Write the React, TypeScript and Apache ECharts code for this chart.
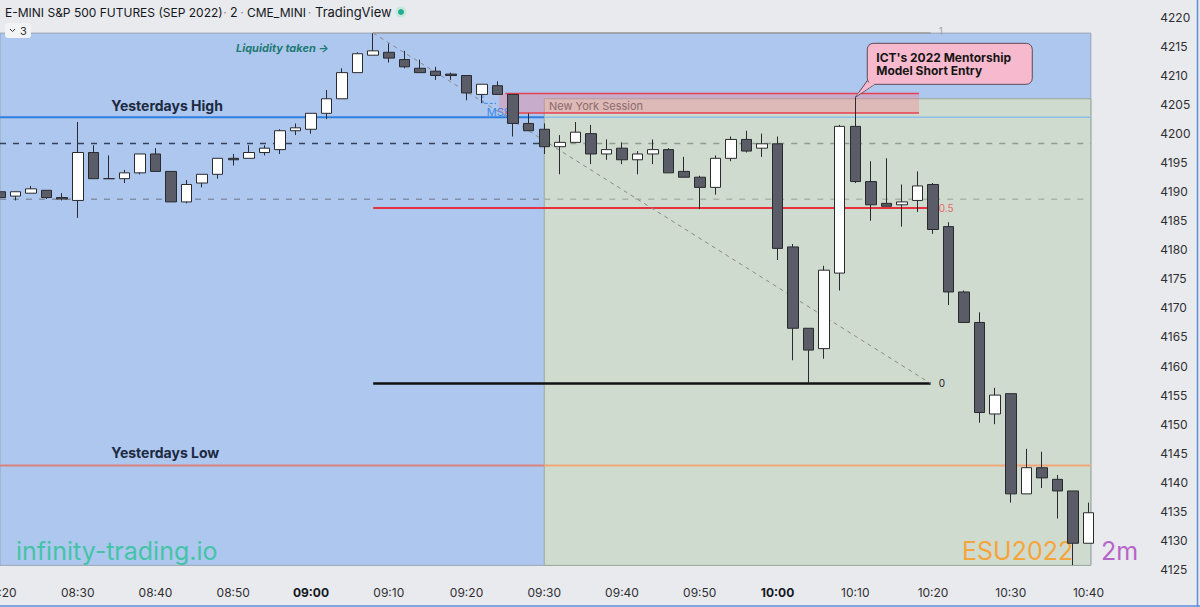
import React, { useEffect, useRef } from "react";
import * as echarts from "echarts";

// ---- Candles (2-minute bars, ESU2022) ----
const times = [
  "08:20","08:22","08:24","08:26","08:28","08:30","08:32","08:34","08:36","08:38",
  "08:40","08:42","08:44","08:46","08:48","08:50","08:52","08:54","08:56","08:58",
  "09:00","09:02","09:04","09:06","09:08","09:10","09:12","09:14","09:16","09:18",
  "09:20","09:22","09:24","09:26","09:28","09:30","09:32","09:34","09:36","09:38",
  "09:40","09:42","09:44","09:46","09:48","09:50","09:52","09:54","09:56","09:58",
  "10:00","10:02","10:04","10:06","10:08","10:10","10:12","10:14","10:16","10:18",
  "10:20","10:22","10:24","10:26","10:28","10:30","10:32","10:34","10:36","10:38",
  "10:40",
];
const opens = [
  4190.0, 4189.25, 4189.75, 4190.25, 4189.0, 4188.5, 4196.75, 4192.25, 4192.25, 4193.25,
  4196.5, 4193.5, 4188.25, 4191.5, 4193.0, 4195.75, 4195.75, 4196.75, 4197.25, 4200.5,
  4200.75, 4203.5, 4206.0, 4210.5, 4213.5, 4214.0, 4212.75, 4211.25, 4210.75, 4210.25,
  4210.0, 4206.75, 4208.25, 4206.75, 4201.75, 4200.75, 4197.75, 4198.5, 4200.0, 4196.5,
  4197.5, 4195.5, 4196.5, 4197.25, 4193.5, 4192.5, 4190.75, 4195.75, 4199.0, 4197.5,
  4198.25, 4180.5, 4166.5, 4163.0, 4176.0, 4201.25, 4191.75, 4188.0, 4187.75, 4188.5,
  4191.25, 4184.0, 4172.75, 4167.5, 4151.75, 4155.25, 4138.0, 4142.5, 4140.5, 4138.5,
  4129.5,
];
const closes = [
  4189.0, 4190.0, 4190.5, 4189.0, 4188.75, 4196.75, 4192.25, 4192.25, 4193.25, 4196.5,
  4193.5, 4188.25, 4191.25, 4193.0, 4195.75, 4195.5, 4196.75, 4197.5, 4200.5, 4201.0,
  4203.5, 4206.0, 4210.5, 4213.75, 4214.25, 4213.0, 4211.5, 4210.5, 4210.0, 4210.0,
  4207.0, 4208.5, 4206.75, 4201.75, 4200.5, 4197.75, 4198.5, 4200.25, 4196.5, 4197.25,
  4195.5, 4196.5, 4197.25, 4193.25, 4192.5, 4190.75, 4195.75, 4199.0, 4197.0, 4198.25,
  4180.25, 4166.5, 4162.75, 4176.5, 4201.25, 4191.75, 4187.75, 4187.5, 4188.25, 4191.0,
  4183.5, 4172.75, 4167.5, 4152.0, 4155.0, 4138.0, 4142.5, 4140.75, 4138.5, 4129.5,
  4134.75,
];
const lows = [
  4188.75, 4188.5, 4189.75, 4188.75, 4188.5, 4185.5, 4192.25, 4192.25, 4191.5, 4193.0,
  4193.5, 4188.25, 4188.0, 4190.75, 4192.25, 4194.5, 4195.75, 4196.25, 4196.5, 4199.75,
  4200.0, 4202.5, 4206.0, 4210.5, 4213.5, 4212.25, 4211.25, 4210.5, 4209.25, 4209.25,
  4205.75, 4205.25, 4206.75, 4199.5, 4200.5, 4196.5, 4193.0, 4198.5, 4194.75, 4195.5,
  4194.75, 4193.0, 4194.75, 4193.25, 4192.5, 4187.0, 4189.5, 4195.25, 4196.75, 4196.0,
  4178.25, 4161.0, 4157.0, 4161.25, 4173.0, 4191.5, 4185.0, 4187.5, 4184.0, 4186.5,
  4182.75, 4170.5, 4167.5, 4150.25, 4150.0, 4136.5, 4138.0, 4139.0, 4133.75, 4125.75,
  4129.5,
];
const highs = [
  4190.25, 4190.0, 4191.0, 4190.25, 4189.75, 4202.0, 4198.0, 4196.25, 4193.75, 4196.5,
  4197.5, 4193.5, 4192.0, 4193.0, 4195.75, 4196.5, 4198.0, 4198.0, 4200.75, 4201.75,
  4203.5, 4207.5, 4211.25, 4214.0, 4217.25, 4215.5, 4214.25, 4212.75, 4211.5, 4210.5,
  4210.0, 4208.5, 4209.0, 4206.75, 4203.5, 4201.75, 4199.75, 4202.0, 4201.5, 4199.0,
  4198.5, 4197.0, 4199.0, 4197.5, 4196.0, 4192.75, 4196.25, 4199.5, 4200.5, 4200.0,
  4199.5, 4181.0, 4166.5, 4177.25, 4201.5, 4206.25, 4195.25, 4195.75, 4191.25, 4193.5,
  4191.5, 4184.75, 4173.0, 4169.25, 4156.25, 4155.25, 4145.75, 4145.25, 4141.25, 4138.5,
  4136.5,
];

// ---- Drawn zones (minutes since midnight / price) ----
const zoneStart = [500, 570, 564.2];
const zoneEnd = [640.3, 640.3, 618.2];
const zoneLow = [4125.7, 4125.7, 4203.55];
const zoneHigh = [4217.3, 4206.0, 4206.9];

// ---- Horizontal levels (minutes / price) ----
const levelPrice = [4202.8, 4202.8, 4198.3, 4198.3, 4188.7, 4188.7, 4142.9, 4142.9, 4217.3, 4187.2, 4157.0, 4206.9, 4203.55];
const levelStart = [500, 570, 500, 570, 500, 570, 500, 570, 548, 548, 548, 565, 565];
const levelEnd = [570, 640.3, 570, 640.3, 570, 640.3, 570, 640.3, 619.7, 619.7, 619.7, 618.2, 618.2];

// ---- Fib diagonal and MSS marker ----
const fibDiagonal = [[548, 4217.3], [619.7, 4157.0]];
const mssMarker = [[562.1, 4206.6], [562.1, 4205.2], [563.8, 4205.2]];
const fibLabels = ["1", "0.5", "0"];
const fibLabelPrice = [4217.3, 4187.2, 4157.0];

// ---- Text annotations ----
const noteTexts = ["Yesterdays High", "Yesterdays Low", "Liquidity taken →", "New York Session", "MSS"];
const noteTime = [514.3, 514.3, 530.35, 570.6, 562.6];
const notePrice = [4204.85, 4145.1, 4214.7, 4204.7, 4203.65];
const calloutLines = ["ICT's 2022 Mentorship", "Model Short Entry"];
const calloutBar = 55;

const FONT = "Inter, 'Noto Sans', 'DejaVu Sans', sans-serif";

export default function App() {
  const ref = useRef<HTMLDivElement>(null);
  useEffect(() => {
    const el = ref.current!;
    const chart = echarts.init(el, null, { renderer: "svg" });
    const toMin = (s: string) => {
      const [h, m] = s.split(":").map(Number);
      return h * 60 + m;
    };
    const fmtTime = (v: number) => {
      const h = Math.floor(v / 60);
      const m = Math.round(v % 60);
      return `${String(h).padStart(2, "0")}:${String(m).padStart(2, "0")}`;
    };
    const candleData = times.map((t, i) => [toMin(t), opens[i], closes[i], lows[i], highs[i]]);

    const zoneStyles = [
      { fill: "#adc7ee", stroke: "#97a4b7", lineWidth: 1 },
      { fill: "#d0dbcf", stroke: "#9caa9c", lineWidth: 1 },
      { fill: "rgba(242,128,148,0.38)", stroke: null, lineWidth: 0 },
    ];
    const levelStyles: any[] = [
      { color: "#2f7fe0", width: 2, type: "solid" },
      { color: "#8cc0e6", width: 1.5, type: "solid" },
      { color: "#34415a", width: 1.5, type: [6, 7] },
      { color: "#8f9c8f", width: 1.5, type: [6, 7] },
      { color: "#8190a6", width: 1.5, type: [6, 7] },
      { color: "#a9b3a9", width: 1.5, type: [6, 7] },
      { color: "#d9837e", width: 2, type: "solid" },
      { color: "#f2a77a", width: 2, type: "solid" },
      { color: "#9d9d9d", width: 1.5, type: "solid" },
      { color: "#e8313f", width: 2, type: "solid" },
      { color: "#111111", width: 2.5, type: "solid" },
      { color: "#e8404f", width: 1.5, type: "solid" },
      { color: "#e8404f", width: 1.5, type: "solid" },
    ];

    const levelSeries = levelPrice.map((p, i) => ({
      type: "line",
      data: [[levelStart[i], p], [levelEnd[i], p]],
      symbol: "none",
      silent: true,
      z: 1,
      lineStyle: levelStyles[i],
    }));

    chart.setOption({
      animation: false,
      backgroundColor: "#e9eaed",
      grid: { left: 0, top: 0, right: 103.7, bottom: 37.6, containLabel: false, outerBoundsMode: "none" },
      xAxis: {
        type: "value",
        min: 500,
        max: 641,
        interval: 10,
        axisLine: { show: false },
        axisTick: { show: false },
        splitLine: { show: false },
        axisLabel: {
          margin: 17,
          fontSize: 12,
          fontFamily: FONT,
          color: "#2f2f33",
          formatter: (v: number) => {
            if (Math.abs(v % 10) > 0.001) return "";
            const s = fmtTime(v);
            return v % 60 === 0 ? `{b|${s}}` : s;
          },
          rich: { b: { fontWeight: "bold", fontSize: 12, fontFamily: FONT, color: "#131722" } },
        },
      },
      yAxis: {
        type: "value",
        position: "right",
        min: 4125,
        max: 4223,
        interval: 5,
        axisLine: { show: false },
        axisTick: { show: false },
        splitLine: { show: false },
        axisLabel: {
          margin: 64,
          fontSize: 12,
          fontFamily: FONT,
          color: "#2f2f33",
          formatter: (v: number) => (v % 5 === 0 && v <= 4220 ? String(v) : ""),
        },
      },
      series: [
        {
          type: "custom",
          z: 0,
          silent: true,
          data: zoneStart.map((s, i) => [s, zoneLow[i], zoneEnd[i], zoneHigh[i]]),
          encode: { x: [0, 2], y: [1, 3] },
          renderItem: (params: any, api: any) => {
            const a = api.coord([api.value(0), api.value(1)]);
            const b = api.coord([api.value(2), api.value(3)]);
            const st = zoneStyles[params.dataIndex];
            return {
              type: "rect",
              shape: {
                x: Math.min(a[0], b[0]),
                y: Math.min(a[1], b[1]),
                width: Math.abs(b[0] - a[0]),
                height: Math.abs(b[1] - a[1]),
              },
              style: st,
            };
          },
        },
        ...levelSeries,
        {
          type: "line",
          data: fibDiagonal,
          symbol: "none",
          silent: true,
          z: 1,
          lineStyle: { color: "#8a8a8a", width: 1, type: [4, 4] },
        },
        {
          type: "line",
          data: mssMarker,
          symbol: "none",
          silent: true,
          z: 1,
          lineStyle: { color: "#3d8be8", width: 1, type: [3, 2] },
        },
        {
          type: "candlestick",
          data: candleData,
          encode: { x: 0, y: [1, 2, 3, 4] },
          barWidth: 11,
          z: 3,
          silent: true,
          itemStyle: {
            color: "#ffffff",
            color0: "#5a5c68",
            borderColor: "#2a2a2e",
            borderColor0: "#2a2a2e",
            borderWidth: 1,
          },
        },
      ],
    });

    const px = (t: number, p: number) => chart.convertToPixel({ gridIndex: 0 } as any, [t, p]) as number[];
    const g: any[] = [];
    const text = (t: string, x: number, y: number, st: any, z = 2, align = "left") =>
      g.push({
        type: "text",
        x,
        y,
        z,
        silent: true,
        style: {
          text: t,
          fontFamily: FONT,
          align,
          verticalAlign: "middle",
          textAlign: align,
          textVerticalAlign: "middle",
          ...st,
        },
      });

    // annotations anchored in data space
    const noteStyles = [
      { fill: "#1c2940", fontSize: 14, fontWeight: "bold" },
      { fill: "#1c2940", fontSize: 14, fontWeight: "bold" },
      { fill: "#1f7a74", fontSize: 11, fontWeight: "bold", fontStyle: "italic" },
      { fill: "#8a6b6b", fontSize: 11 },
      { fill: "#3d8be8", fontSize: 11 },
    ];
    noteTexts.forEach((t, i) => {
      const [x, y] = px(noteTime[i], notePrice[i]);
      text(t, x, y, noteStyles[i]);
    });
    const fibLabelStyles = [
      { fill: "#a3a3a3", fontSize: 10 },
      { fill: "#e5676b", fontSize: 10 },
      { fill: "#222222", fontSize: 10 },
    ];
    fibLabels.forEach((t, i) => {
      const [x, y] = px(fibDiagonal[1][0], fibLabelPrice[i]);
      text(t, x + 8, y - (i === 0 ? 2 : 0), fibLabelStyles[i]);
    });

    // callout
    const [tx, ty] = px(toMin(times[calloutBar]), highs[calloutBar]);
    const bx = tx + 12;
    const by = ty - 54;
    g.push({
      type: "polygon",
      z: 10,
      silent: true,
      shape: { points: [[tx, ty], [bx + 1, by + 36], [bx + 9, by + 40]] },
      style: { fill: "#f7b9cd", stroke: "#5d4b57", lineWidth: 1 },
    });
    g.push({
      type: "rect",
      z: 10,
      silent: true,
      shape: { x: bx, y: by, width: 165, height: 41, r: 6 },
      style: { fill: "#f7b9cd", stroke: "#5d4b57", lineWidth: 1 },
    });
    g.push({
      type: "polygon",
      z: 10,
      silent: true,
      shape: { points: [[tx + 0.5, ty - 1], [bx + 2, by + 39], [bx + 8, by + 40.5]] },
      style: { fill: "#f7b9cd" },
    });
    calloutLines.forEach((t, i) =>
      text(t, bx + 9, by + 14 + i * 13, { fill: "#151515", fontSize: 12, fontWeight: "bold" }, 11)
    );

    // header
    text("E-MINI S&P 500 FUTURES (SEP 2022)", 5, 12, { fill: "#131722", fontSize: 12 }, 5);
    text("·", 225, 12, { fill: "#8a8d95", fontSize: 12 }, 5, "center");
    text("2", 230, 12, { fill: "#131722", fontSize: 12.5 }, 5);
    text("·", 242, 12, { fill: "#8a8d95", fontSize: 12 }, 5, "center");
    text("CME_MINI", 247, 12, { fill: "#131722", fontSize: 12 }, 5);
    text("·", 309.5, 12, { fill: "#8a8d95", fontSize: 12 }, 5, "center");
    text("TradingView", 315, 12, { fill: "#131722", fontSize: 13 }, 5);
    g.push({ type: "circle", z: 5, silent: true, shape: { cx: 401, cy: 12, r: 5.5 }, style: { fill: "#c5e9d7" } });
    g.push({ type: "circle", z: 5, silent: true, shape: { cx: 401, cy: 12, r: 3 }, style: { fill: "#22ab94" } });
    g.push({ type: "rect", z: 5, silent: true, shape: { x: 5, y: 23, width: 26, height: 15, r: 3 }, style: { fill: "#f2f3f5" } });
    g.push({
      type: "polyline",
      z: 6,
      silent: true,
      shape: { points: [[10, 29], [12.5, 31.5], [15, 29]] },
      style: { stroke: "#333", lineWidth: 1, fill: null },
    });
    text("3", 20, 30.5, { fill: "#333", fontSize: 11 }, 6);

    // watermarks
    text("infinity-trading.io", 16, 551, { fill: "#45c3a6", fontSize: 25 }, 2);
    text("ESU2022", 962, 551, { fill: "#f5a53a", fontSize: 25 }, 2);
    text("2m", 1101, 551, { fill: "#b565c9", fontSize: 25 }, 2);

    // screenshot frame
    g.push({ type: "line", z: 20, silent: true, shape: { x1: 1197.5, y1: 0, x2: 1197.5, y2: 607 }, style: { stroke: "#5b8fdf", lineWidth: 1.5 } });
    g.push({ type: "line", z: 20, silent: true, shape: { x1: 0, y1: 606, x2: 1200, y2: 606 }, style: { stroke: "#5b8fdf", lineWidth: 1.5 } });

    chart.setOption({ graphic: g });

    return () => chart.dispose();
  }, []);
  return <div ref={ref} style={{ position: "fixed", left: 0, top: 0, width: 1200, height: 607 }} />;
}
